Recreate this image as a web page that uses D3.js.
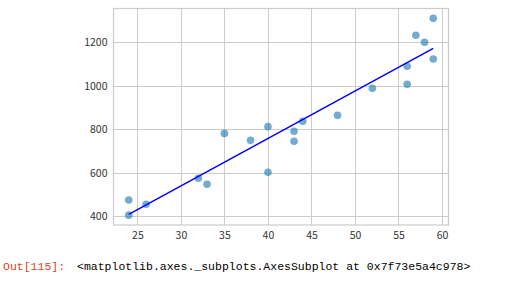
<!DOCTYPE html>
<html><head><meta charset="utf-8">
<script src="https://cdn.jsdelivr.net/npm/d3@7"></script>
<style>body{margin:0;background:#fff;}svg{display:block;}</style>
</head><body>
<script>
const ages = [24,24,26,32,33,35,38,40,40,43,43,44,48,52,56,56,57,58,59,59];
const values = [475,405,455,575,547,781,749,812,602,791,745,837,864,988,1007,1090,1232,1200,1310,1123];
const fitX = [24,59];
const fitY = [409,1172];
const xTicks = [25,30,35,40,45,50,55,60];
const yTicks = [400,600,800,1000,1200];
const promptLabel = "Out[115]:";
const outputText = "<matplotlib.axes._subplots.AxesSubplot at 0x7f73e5a4c978>";

const W = 506, H = 284;
const L = 113.5, R = 448.5, T = 8.5, B = 225;
const svg = d3.select("body").append("svg").attr("width", W).attr("height", H);

const x = d3.scaleLinear().domain([22.25, 60.75]).range([L, R]);
const y = d3.scaleLinear().domain([359.75, 1355.25]).range([B, T]);

const font = "'Noto Sans CJK JP', 'DejaVu Sans', sans-serif";
// grid
svg.append("g").selectAll("line").data(xTicks).join("line")
  .attr("x1", d => Math.round(x(d)) + 0.5).attr("x2", d => Math.round(x(d)) + 0.5)
  .attr("y1", T).attr("y2", B).attr("stroke", "#cccccc").attr("stroke-width", 1);
svg.append("g").selectAll("line").data(yTicks).join("line")
  .attr("y1", d => Math.round(y(d)) + 0.5).attr("y2", d => Math.round(y(d)) + 0.5)
  .attr("x1", L).attr("x2", R).attr("stroke", "#cccccc").attr("stroke-width", 1);
// frame
svg.append("rect").attr("x", L).attr("y", T).attr("width", R - L).attr("height", B - T)
  .attr("fill", "none").attr("stroke", "#cccccc").attr("stroke-width", 1.2);

// axes labels via d3 axes
const xAxis = d3.axisBottom(x).tickValues(xTicks).tickFormat(d3.format("d")).tickSize(0).tickPadding(7);
const gx = svg.append("g").attr("transform", `translate(0,${B})`).call(xAxis);
gx.select(".domain").remove();
gx.selectAll("text").attr("fill", "#333").style("font-family", font).style("font-size", "10.5px");
const yAxis = d3.axisLeft(y).tickValues(yTicks).tickFormat(d3.format("d")).tickSize(0).tickPadding(6);
const gy = svg.append("g").attr("transform", `translate(${L},0)`).call(yAxis);
gy.select(".domain").remove();
gy.selectAll("text").attr("fill", "#333").style("font-family", font).style("font-size", "10.5px");

// points
svg.append("g").selectAll("circle").data(ages.map((a, i) => [a, values[i]])).join("circle")
  .attr("cx", d => x(d[0])).attr("cy", d => y(d[1])).attr("r", 3.8)
  .attr("fill", "#1f77b4").attr("fill-opacity", 0.62);

// fit line
svg.append("path").datum(fitX.map((a, i) => [a, fitY[i]]))
  .attr("d", d3.line().x(d => x(d[0])).y(d => y(d[1])))
  .attr("stroke", "#0000ff").attr("stroke-width", 1.5).attr("fill", "none");

// jupyter output
const mono = "'Liberation Mono', 'DejaVu Sans Mono', monospace";
svg.append("text").attr("x", 3).attr("y", 270).text(promptLabel)
  .attr("fill", "#d84315").style("font-family", mono).style("font-size", "11.5px");
svg.append("text").attr("x", 77).attr("y", 270).text(outputText)
  .attr("fill", "#000").style("font-family", mono).style("font-size", "11.5px");
</script>
</body></html>
